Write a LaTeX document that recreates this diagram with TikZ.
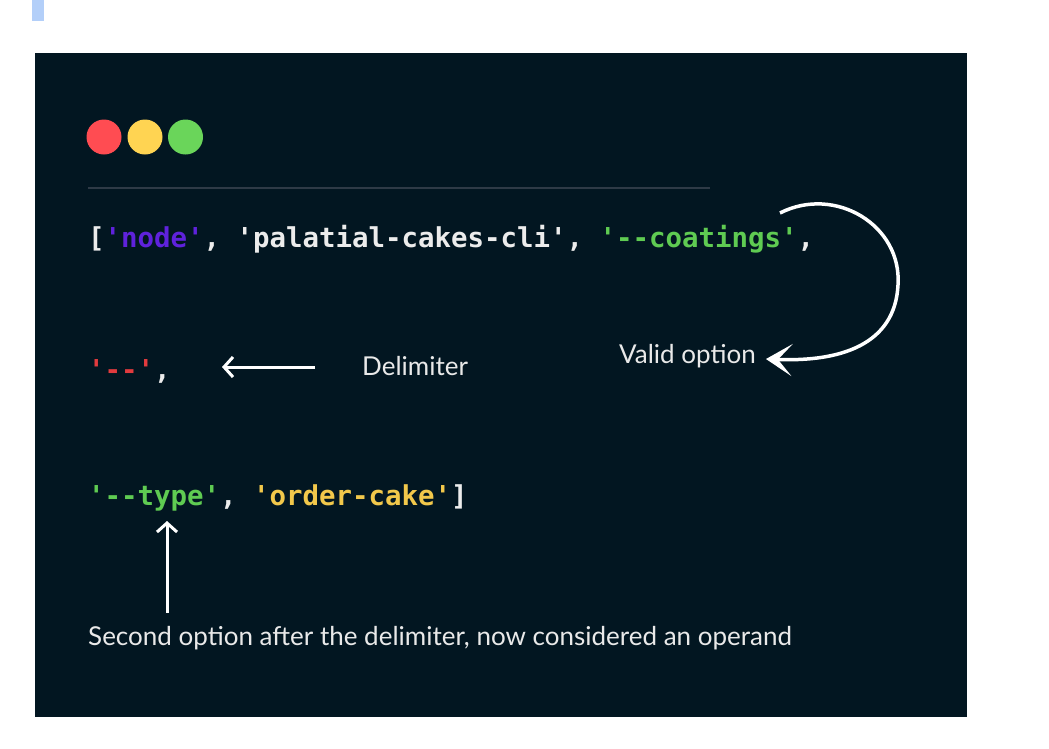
\documentclass[tikz,border=0pt]{standalone}
\usepackage{fontspec}
\setmainfont{Lato}
\newfontfamily\codefont{DejaVu Sans Mono}
\usetikzlibrary{arrows.meta}
\definecolor{bgdark}{HTML}{021621}
\definecolor{marker}{HTML}{B3CFF9}
\definecolor{dotred}{HTML}{FF4C52}
\definecolor{dotyellow}{HTML}{FFD452}
\definecolor{dotgreen}{HTML}{6AD55A}
\definecolor{rule}{HTML}{2E3A46}
\definecolor{codewhite}{HTML}{ECECEC}
\definecolor{codepurple}{HTML}{5F22DC}
\definecolor{codegreen}{HTML}{5FCB52}
\definecolor{codered}{HTML}{E23B3E}
\definecolor{codeyellow}{HTML}{F2C84B}
\definecolor{labelwhite}{HTML}{E9E9E9}
\tikzset{
  codeline/.style={anchor=base west, inner sep=0pt, text=codewhite,
    font=\codefont\bfseries\fontsize{27.4}{30}\selectfont},
  label/.style={anchor=base west, inner sep=0pt, text=labelwhite,
    font=\fontsize{26}{30}\selectfont},
  dot/.style={circle, inner sep=0pt, minimum size=35pt},
  pointer/.style={draw=white, line width=3pt, -{Straight Barb[length=9pt,width=20pt,line width=3pt]}},
  curvy/.style={draw=white, line width=3.5pt, -{Stealth[length=26pt,width=32pt,inset=14pt]}}
}
\begin{document}
\begin{tikzpicture}[x=1pt,y=-1pt]
\fill[white] (0,0) rectangle (1049,748);
\fill[marker] (32,0) rectangle (44,21);
\fill[bgdark] (35,53) rectangle (967,717);
\node[dot, fill=dotred] (red) at (104,137) {};
\node[dot, fill=dotyellow] (yellow) at (145,137) {};
\node[dot, fill=dotgreen] (green) at (185.5,137) {};
\draw[rule, line width=2.5pt] (88,188) -- (710,188);
\node[codeline] (l1) at (88,247) {[\textcolor{codepurple}{'node'}, 'palatial-cakes-cli', \textcolor{codegreen}{'-{}-coatings'},};
\node[codeline] (l2) at (88,379) {\textcolor{codered}{'-{}-'},};
\node[codeline] (l3) at (88,505) {\textcolor{codegreen}{'-{}-type'}, \textcolor{codeyellow}{'order-cake'}]};
\node[label] (delim) at (362,375) {Delimiter};
\node[label] (valid) at (619,363) {Valid option};
\node[label] (second) at (88,645) {Second option after the delimiter, now considered an operand};
\coordinate (dstart) at (315,367);
\coordinate (dend) at (222,367);
\draw[pointer] (dstart) -- (dend);
\coordinate (vstart) at (167,613);
\coordinate (vend) at (167,521);
\draw[pointer] (vstart) -- (vend);
\coordinate (cstart) at (780,213);
\coordinate (cmid) at (898,285);
\coordinate (cend) at (766,359);
\draw[curvy] (cstart) .. controls (835,185) and (902,225) .. (cmid) .. controls (895,345) and (840,362) .. (cend);
\end{tikzpicture}
\end{document}
